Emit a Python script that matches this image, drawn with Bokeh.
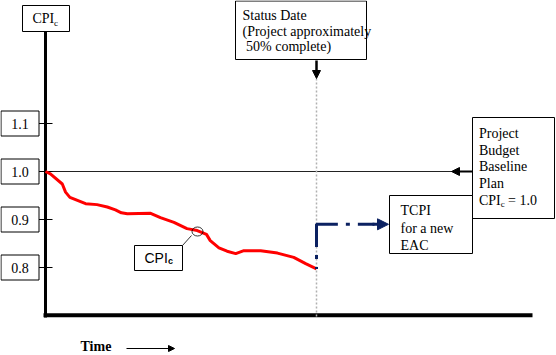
from bokeh.plotting import figure
from bokeh.models import Range1d, Arrow, NormalHead
from bokeh.core.properties import value
from bokeh.embed import file_html
from bokeh.resources import INLINE

# ---------------- data ----------------
time_pct = [0.0, 0.9, 3.1, 3.7, 4.5, 7.4, 9.5, 11.4, 12.9, 14.0, 15.1, 19.4, 21.2,
            23.7, 26.1, 28.0, 29.7, 30.4, 32.0, 33.5, 35.1, 36.6, 39.7, 42.8,
            45.8, 48.0, 50.0]
cpi_c = [1.000, 0.995, 0.974, 0.957, 0.946, 0.933, 0.931, 0.926, 0.920, 0.914,
         0.912, 0.913, 0.904, 0.894, 0.881, 0.877, 0.869, 0.856, 0.841, 0.834,
         0.829, 0.835, 0.835, 0.830, 0.821, 0.808, 0.797]
tick_values = [1.1, 1.0, 0.9, 0.8]
tick_labels = ["1.1", "1.0", "0.9", "0.8"]
status_date = 50.0
baseline_cpi = 1.0
tcpi_value = 0.89

# ---------------- layout helpers (pixel -> data) ----------------
W, H = 556, 355
X0PX, PX_PER_T = 45.0, 5.42
Y1PX, PX_PER_C = 171.0, 480.0


def sx(px):
    return (px - X0PX) / PX_PER_T


def sy(py):
    return 1.0 - (py - Y1PX) / PX_PER_C


p = figure(width=W, height=H, x_range=Range1d(sx(0), sx(W)), y_range=Range1d(sy(H), sy(0)),
           x_axis_type=None, y_axis_type=None, toolbar_location=None,
           output_backend="svg", min_border=0)
p.outline_line_color = None
p.background_fill_color = "white"
p.border_fill_color = "white"

SERIF = value("Liberation Serif")
SANS = value("Liberation Sans")


def txt(px, py, s, size=14, font=SERIF, style="normal", align="left"):
    p.text(x=[sx(px)], y=[sy(py)], text=[s], text_font=font,
           text_font_size=value(f"{size}px"), text_font_style=style,
           text_baseline="middle", text_align=align, text_color="black")


def box(l, t, r, b):
    p.quad(left=[sx(l)], right=[sx(r)], top=[sy(t)], bottom=[sy(b)],
           fill_color="white", line_color="black", line_width=1)


# axes (drawn)
p.line(x=[sx(45), sx(45)], y=[sy(31), sy(317)], line_color="black", line_width=3)
p.line(x=[sx(43), sx(532)], y=[sy(314.7), sy(314.7)], line_color="black", line_width=4)

# baseline CPI = 1.0
p.line(x=[0, sx(455)], y=[baseline_cpi, baseline_cpi], line_color="#222222", line_width=1.2)

# status date dotted line
p.line(x=[status_date, status_date], y=[sy(78), sy(318)], line_color="#b0b0b0",
       line_width=1.5, line_dash="2 2")

# ticks and boxed tick labels
for v in tick_values:
    p.line(x=[sx(38), sx(52)], y=[v, v], line_color="black", line_width=1)
p.rect(x=[sx(19.5)] * len(tick_values), y=tick_values, width=38, height=25,
       width_units="screen", height_units="screen", fill_color="white",
       line_color="black", line_width=1)
p.text(x=[sx(19.5)] * len(tick_values), y=tick_values, text=tick_labels,
       text_font=SERIF, text_font_size=value("14px"), text_align="center",
       text_baseline="middle", text_color="black")

# CPI_c curve
p.line(x=time_pct, y=cpi_c, line_color="red", line_width=3)

# TCPI line
p.line(x=[status_date, status_date, sx(374)], y=[cpi_c[-1], tcpi_value, tcpi_value],
       line_color="#0b2161", line_width=3, line_dash="44 8 4 8", line_dash_offset=42)
p.add_layout(Arrow(end=NormalHead(size=11, fill_color="#0b2161", line_color="#0b2161"),
                   x_start=sx(372), y_start=tcpi_value, x_end=sx(388), y_end=tcpi_value,
                   line_color="#0b2161", line_width=3))

# top-left CPIc label
box(22, 5, 69, 31)
txt(32, 18, "CPI")
txt(53.5, 22, "c", size=9)

# status date box + arrow
box(235, 0.5, 366, 59)
txt(242, 15, "Status Date")
txt(242, 30.5, "(Project approximately")
txt(245.5, 46, "50% complete)")
p.add_layout(Arrow(end=NormalHead(size=8, fill_color="black", line_color="black"),
                   x_start=status_date, y_start=sy(60), x_end=status_date, y_end=sy(78),
                   line_color="black", line_width=2.5))

# baseline plan box + arrow
box(472, 117, 554, 218)
txt(478.5, 132.5, "Project")
txt(478.5, 149.5, "Budget")
txt(478.5, 166, "Baseline")
txt(478.5, 182.5, "Plan")
txt(478.5, 199.5, "CPI")
txt(500.3, 203.5, "c", size=9)
txt(507.5, 199.5, "= 1.0")
p.add_layout(Arrow(end=NormalHead(size=8, fill_color="black", line_color="black"),
                   x_start=sx(472), y_start=baseline_cpi, x_end=sx(451), y_end=baseline_cpi,
                   line_color="black", line_width=2))

# TCPI box
box(389, 195, 472, 253)
txt(400, 210, "TCPI")
txt(400, 227.5, "for a new")
txt(400, 244.5, "EAC")

# CPIc callout
p.ellipse(x=[sx(197)], y=[sy(231)], width=11, height=9, width_units="screen",
          height_units="screen", fill_color=None, line_color="black", line_width=0.8)
p.line(x=[sx(191), sx(182)], y=[sy(235), sy(245)], line_color="black", line_width=0.8)
box(134, 245, 182, 270)
txt(144, 257.5, "CPI", font=SANS)
txt(167.5, 260.5, "c", size=9, font=SANS, style="bold")

# Time arrow
txt(80, 346, "Time", size=14, style="bold")
p.add_layout(Arrow(end=NormalHead(size=6, fill_color="black", line_color="black"),
                   x_start=sx(126), y_start=sy(348), x_end=sx(174), y_end=sy(348),
                   line_color="black", line_width=1.2))

open("out.html", "w").write(file_html(p, INLINE))
